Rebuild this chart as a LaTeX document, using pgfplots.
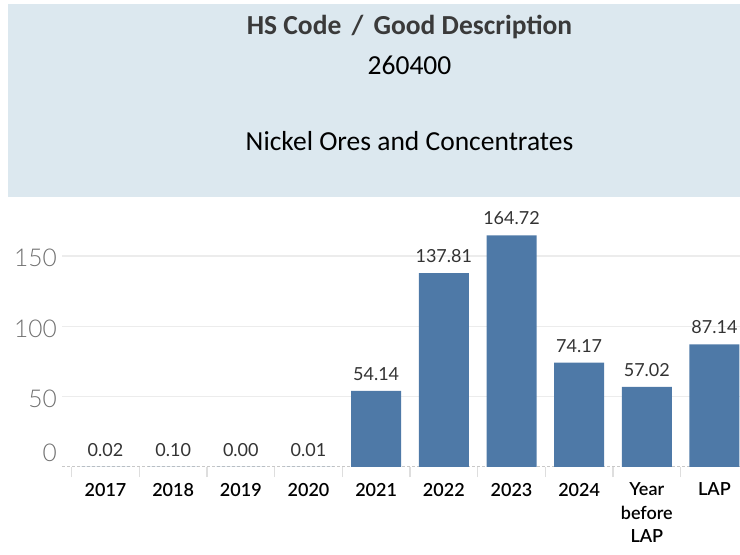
\documentclass[border=0pt]{standalone}
\usepackage{fontspec}
\usepackage{pgfplots}
\pgfplotsset{compat=1.18}
\setmainfont{Lato}
\newfontfamily\headfont{Carlito}
\IfFontExistsTF{Lato Light}{\newfontfamily\lightfont{Lato Light}}{\newfontfamily\lightfont{Lato}}
\IfFontExistsTF{Lato Semibold}{\newfontfamily\semifont{Lato Semibold}}{\newfontfamily\semifont{Lato}[FakeBold=0.4]}
\definecolor{hdrbg}{RGB}{220,232,239}
\definecolor{barblue}{RGB}{78,121,167}
\definecolor{gridc}{RGB}{236,236,236}
\definecolor{zeroc}{RGB}{200,200,200}
\definecolor{sepc}{RGB}{222,222,222}
\definecolor{ytickc}{RGB}{112,112,112}
\definecolor{labc}{RGB}{51,51,51}
\definecolor{titlec}{RGB}{58,58,58}
\begin{document}
\begin{tikzpicture}[x=1pt,y=1pt]
\useasboundingbox (0,0) rectangle (740,555);
\fill[hdrbg] (8,358) rectangle (740,551);
\node[anchor=base, inner sep=0pt, text=titlec] at (409.5,520) {\headfont\bfseries\fontsize{27.5}{33}\selectfont HS Code\hspace{4pt} / \hspace{4pt}Good Description};
\node[anchor=base, inner sep=0pt] at (409.5,480.5) {\headfont\fontsize{27.5}{33}\selectfont 260400};
\node[anchor=base, inner sep=0pt] at (409.5,404.5) {\headfont\fontsize{27.5}{33}\selectfont Nickel Ores and Concentrates};
\begin{axis}[
  at={(62pt,88pt)}, anchor=south west,
  scale only axis, width=678pt, height=262pt,
  xmin=-0.643, xmax=9.377, ymin=0, ymax=186.25,
  clip=false,
  /pgf/number format/assume math mode=true,
  axis line style={draw=none},
  ybar, bar width=50pt,
  xtick={0,1,2,3,4,5,6,7,8,9},
  xticklabels={2017,2018,2019,2020,2021,2022,2023,2024,{Year\\before\\LAP},LAP},
  xticklabel style={align=center, font=\semifont\fontsize{18}{23.5}\selectfont, text=black, anchor=north, inner sep=0pt, yshift=-15.7pt},
  minor xtick={-0.5,0.5,1.5,2.5,3.5,4.5,5.5,6.5,7.5,8.5},
  xtick pos=left, ytick pos=left,
  major tick length=0pt, minor tick length=10pt, tick align=outside,
  minor x tick style={draw=sepc, line width=1.5pt},
  ytick={50,100,150},
  yticklabel style={font=\lightfont\fontsize{24.5}{27}\selectfont, text=ytickc, anchor=east, inner sep=0pt, xshift=-5pt, yshift=-2pt},
  extra y ticks={0},
  extra y tick labels={0},
  extra y tick style={yticklabel style={yshift=16.5pt}, major grid style={draw=zeroc, line width=1pt, dash pattern=on 3pt off 2pt}},
  ymajorgrids,
  major grid style={draw=gridc, line width=1.6pt},
  nodes near coords={\pgfmathprintnumber[fixed,fixed zerofill,precision=2,assume math mode=true]{\pgfplotspointmeta}},
  nodes near coords style={font=\fontsize{18}{20}\selectfont, text=labc, anchor=base, inner sep=0pt, yshift=10.5pt},
]
\addplot[fill=barblue, draw=none] coordinates {
  (0,0.02) (1,0.10) (2,0.00) (3,0.01) (4,54.14) (5,137.81) (6,164.72) (7,74.17) (8,57.02) (9,87.14)
};
\end{axis}
\end{tikzpicture}
\end{document}
